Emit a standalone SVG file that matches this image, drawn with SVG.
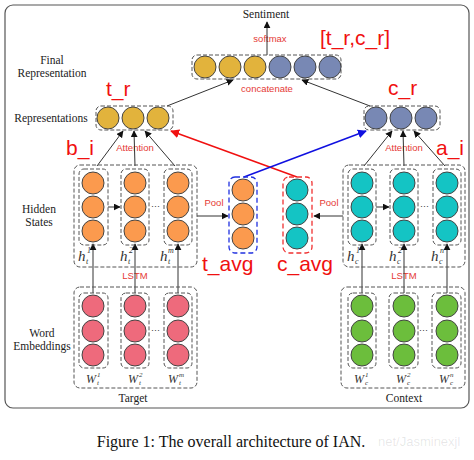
<svg xmlns="http://www.w3.org/2000/svg" width="474" height="460" viewBox="0 0 474 460">
<defs>
<style>
.frame{fill:#fff;stroke:#555;stroke-width:1.2}
.db{fill:none;stroke:#555;stroke-width:1;stroke-dasharray:4 2}
.cy{fill:#E2B33C;stroke:#444;stroke-width:1}
.cb{fill:#7888B4;stroke:#444;stroke-width:1}
.co{fill:#FB9A4E;stroke:#444;stroke-width:1}
.ct{fill:#14C4C4;stroke:#444;stroke-width:1}
.cp{fill:#EE6A7C;stroke:#444;stroke-width:1}
.cg{fill:#6CBE3C;stroke:#444;stroke-width:1}
.ln{stroke:#333;stroke-width:1;fill:none}
.lbl{font-family:"Liberation Serif",serif;font-size:11.5px;fill:#222;text-anchor:middle}
.red{font-family:"Liberation Sans",sans-serif;font-size:9.5px;fill:#E53935;text-anchor:middle}
.big{font-family:"Liberation Sans",sans-serif;font-size:21px;fill:#F01010}
.mi{font-family:"Liberation Serif",serif;font-style:italic;fill:#333}
</style>
<marker id="ah" viewBox="0 0 10 10" refX="9" refY="5" markerWidth="7" markerHeight="7" markerUnits="userSpaceOnUse" orient="auto"><path d="M0,0L10,5L0,10z" fill="#111"/></marker>
<marker id="ahr" viewBox="0 0 10 10" refX="9" refY="5" markerWidth="9" markerHeight="9" markerUnits="userSpaceOnUse" orient="auto"><path d="M0,0L10,5L0,10z" fill="#F01010"/></marker>
<marker id="ahb" viewBox="0 0 10 10" refX="9" refY="5" markerWidth="9" markerHeight="9" markerUnits="userSpaceOnUse" orient="auto"><path d="M0,0L10,5L0,10z" fill="#1010E0"/></marker>
</defs>
<rect width="474" height="460" fill="#fff"/>
<rect class="frame" x="5" y="5" width="464" height="403" rx="8"/>

<g id="labels">
<text class="lbl" x="266" y="18" font-size="13">Sentiment</text>
<text class="lbl" x="52" y="64">Final</text>
<text class="lbl" x="52" y="77">Representation</text>
<text class="lbl" x="51" y="122">Representations</text>
<text class="lbl" x="39" y="213">Hidden</text>
<text class="lbl" x="39" y="226">States</text>
<text class="lbl" x="42" y="337">Word</text>
<text class="lbl" x="42" y="350">Embeddings</text>
<text class="lbl" x="133" y="402" font-size="11">Target</text>
<text class="lbl" x="404" y="402" font-size="11">Context</text>
<text class="red" x="270" y="42">softmax</text>
<text class="red" x="267" y="92">concatenate</text>
<text class="red" x="135" y="151">Attention</text>
<text class="red" x="404" y="151">Attention</text>
<text class="red" x="214" y="206">Pool</text>
<text class="red" x="329" y="206">Pool</text>
<text class="red" x="135" y="279">LSTM</text>
<text class="red" x="404" y="279">LSTM</text>
<text class="big" x="320" y="45">[t_r,c_r]</text>
<text class="big" x="106" y="96">t_r</text>
<text class="big" x="388" y="95">c_r</text>
<text class="big" x="66" y="155">b_i</text>
<text class="big" x="436" y="155">a_i</text>
<text class="big" x="202" y="271">t_avg</text>
<text class="big" x="277" y="271">c_avg</text>
<text x="231" y="447" font-family="Liberation Serif,serif" font-size="16" fill="#111" text-anchor="middle">Figure 1: The overall architecture of IAN.</text>
<text x="378" y="446" font-family="Liberation Sans,sans-serif" font-size="13" fill="#000" fill-opacity="0.1">net/Jasminexjl</text>
</g>

<g id="connectors">
<line class="ln" x1="267" y1="55" x2="267" y2="22" marker-end="url(#ah)"/>
<line class="ln" x1="167" y1="106" x2="233" y2="80" marker-end="url(#ah)"/>
<line class="ln" x1="370" y1="106" x2="302" y2="80" marker-end="url(#ah)"/>
<line class="ln" x1="97" y1="166" x2="123" y2="131" marker-end="url(#ah)"/>
<line class="ln" x1="135" y1="166" x2="134" y2="131" marker-end="url(#ah)"/>
<line class="ln" x1="175" y1="166" x2="145" y2="131" marker-end="url(#ah)"/>
<line class="ln" x1="364" y1="166" x2="392" y2="131" marker-end="url(#ah)"/>
<line class="ln" x1="404" y1="166" x2="403" y2="131" marker-end="url(#ah)"/>
<line class="ln" x1="445" y1="166" x2="414" y2="131" marker-end="url(#ah)"/>
<line class="ln" x1="197" y1="216" x2="228" y2="216" marker-end="url(#ah)"/>
<line class="ln" x1="343" y1="216" x2="314" y2="216" marker-end="url(#ah)"/>
<line class="ln" x1="108" y1="207" x2="120" y2="207" marker-end="url(#ah)"/>
<line class="ln" x1="376" y1="207" x2="389" y2="207" marker-end="url(#ah)"/>
<line class="ln" x1="93" y1="293" x2="93" y2="244" marker-end="url(#ah)"/>
<line class="ln" x1="135" y1="293" x2="135" y2="244" marker-end="url(#ah)"/>
<line class="ln" x1="178" y1="293" x2="178" y2="244" marker-end="url(#ah)"/>
<line class="ln" x1="362" y1="293" x2="362" y2="244" marker-end="url(#ah)"/>
<line class="ln" x1="404" y1="293" x2="404" y2="244" marker-end="url(#ah)"/>
<line class="ln" x1="447" y1="293" x2="447" y2="244" marker-end="url(#ah)"/>
<line x1="297" y1="177" x2="171" y2="131" stroke="#F01010" stroke-width="1.5" marker-end="url(#ahr)"/>
<line x1="244" y1="177" x2="366" y2="131" stroke="#1010E0" stroke-width="1.5" marker-end="url(#ahb)"/>
</g>

<g id="final">
<rect class="db" x="192" y="55" width="149" height="24" rx="5"/>
<circle class="cy" cx="205" cy="67" r="11"/>
<circle class="cy" cx="230" cy="67" r="11"/>
<circle class="cy" cx="255" cy="67" r="11"/>
<circle class="cb" cx="280" cy="67" r="11"/>
<circle class="cb" cx="305" cy="67" r="11"/>
<circle class="cb" cx="330" cy="67" r="11"/>
</g>

<g id="rep-target">
<rect class="db" x="96" y="106" width="77" height="24" rx="5"/>
<circle class="cy" cx="108" cy="118" r="11"/>
<circle class="cy" cx="133" cy="118" r="11"/>
<circle class="cy" cx="158" cy="118" r="11"/>
</g>

<g id="rep-context">
<rect class="db" x="364" y="106" width="76" height="24" rx="5"/>
<circle class="cb" cx="376" cy="118" r="11"/>
<circle class="cb" cx="401" cy="118" r="11"/>
<circle class="cb" cx="426" cy="118" r="11"/>
</g>

<g id="hidden-target">
<rect class="db" x="74" y="165" width="123" height="102" rx="6"/>
<rect class="db" x="79" y="169" width="29" height="76" rx="5"/>
<rect class="db" x="121" y="169" width="28" height="76" rx="5"/>
<rect class="db" x="164" y="169" width="28" height="76" rx="5"/>
<circle class="co" cx="93" cy="183" r="11"/><circle class="co" cx="93" cy="207" r="11"/><circle class="co" cx="93" cy="231" r="11"/>
<circle class="co" cx="135" cy="183" r="11"/><circle class="co" cx="135" cy="207" r="11"/><circle class="co" cx="135" cy="231" r="11"/>
<circle class="co" cx="178" cy="183" r="11"/><circle class="co" cx="178" cy="207" r="11"/><circle class="co" cx="178" cy="231" r="11"/>
<text x="151" y="209" font-family="Liberation Sans,sans-serif" font-size="9" fill="#333">···</text>
<text class="mi" x="78" y="261" font-size="15">h</text><text class="mi" x="86" y="264" font-size="8">t</text><text class="mi" x="87" y="253" font-size="8">1</text>
<text class="mi" x="120" y="261" font-size="15">h</text><text class="mi" x="128" y="264" font-size="8">t</text><text class="mi" x="129" y="253" font-size="8">2</text>
<text class="mi" x="160" y="261" font-size="15">h</text><text class="mi" x="168" y="264" font-size="8">t</text><text class="mi" x="168" y="253" font-size="8">m</text>
</g>

<g id="t-avg">
<rect x="229" y="177" width="28" height="76" rx="6" fill="none" stroke="#2030E0" stroke-width="1.3" stroke-dasharray="5 3"/>
<circle class="co" cx="243" cy="190" r="11"/><circle class="co" cx="243" cy="214" r="11"/><circle class="co" cx="243" cy="238" r="11"/>
</g>

<g id="c-avg">
<rect x="283" y="177" width="29" height="76" rx="6" fill="none" stroke="#F03030" stroke-width="1.3" stroke-dasharray="5 3"/>
<circle class="ct" cx="297" cy="190" r="11"/><circle class="ct" cx="297" cy="214" r="11"/><circle class="ct" cx="297" cy="238" r="11"/>
</g>

<g id="hidden-context">
<rect class="db" x="343" y="165" width="122" height="102" rx="6"/>
<rect class="db" x="348" y="169" width="28" height="76" rx="5"/>
<rect class="db" x="390" y="169" width="28" height="76" rx="5"/>
<rect class="db" x="433" y="169" width="28" height="76" rx="5"/>
<circle class="ct" cx="362" cy="183" r="11"/><circle class="ct" cx="362" cy="207" r="11"/><circle class="ct" cx="362" cy="231" r="11"/>
<circle class="ct" cx="404" cy="183" r="11"/><circle class="ct" cx="404" cy="207" r="11"/><circle class="ct" cx="404" cy="231" r="11"/>
<circle class="ct" cx="447" cy="183" r="11"/><circle class="ct" cx="447" cy="207" r="11"/><circle class="ct" cx="447" cy="231" r="11"/>
<text x="420" y="209" font-family="Liberation Sans,sans-serif" font-size="9" fill="#333">···</text>
<text class="mi" x="347" y="261" font-size="15">h</text><text class="mi" x="355" y="264" font-size="8">c</text><text class="mi" x="356" y="253" font-size="8">1</text>
<text class="mi" x="389" y="261" font-size="15">h</text><text class="mi" x="397" y="264" font-size="8">c</text><text class="mi" x="398" y="253" font-size="8">2</text>
<text class="mi" x="431" y="261" font-size="15">h</text><text class="mi" x="439" y="264" font-size="8">c</text><text class="mi" x="440" y="253" font-size="8">n</text>
</g>

<g id="emb-target">
<rect class="db" x="74" y="287" width="123" height="101" rx="6"/>
<rect class="db" x="79" y="293" width="29" height="75" rx="5"/>
<rect class="db" x="121" y="293" width="28" height="75" rx="5"/>
<rect class="db" x="164" y="293" width="28" height="75" rx="5"/>
<circle class="cp" cx="93" cy="306" r="11"/><circle class="cp" cx="93" cy="331" r="11"/><circle class="cp" cx="93" cy="355" r="11"/>
<circle class="cp" cx="135" cy="306" r="11"/><circle class="cp" cx="135" cy="331" r="11"/><circle class="cp" cx="135" cy="355" r="11"/>
<circle class="cp" cx="178" cy="306" r="11"/><circle class="cp" cx="178" cy="331" r="11"/><circle class="cp" cx="178" cy="355" r="11"/>
<text x="151" y="333" font-family="Liberation Sans,sans-serif" font-size="9" fill="#333">···</text>
<text class="mi" x="86" y="383" font-size="12">W</text><text class="mi" x="97" y="385" font-size="7">t</text><text class="mi" x="97" y="377" font-size="7">1</text>
<text class="mi" x="128" y="383" font-size="12">W</text><text class="mi" x="139" y="385" font-size="7">t</text><text class="mi" x="139" y="377" font-size="7">2</text>
<text class="mi" x="168" y="383" font-size="12">W</text><text class="mi" x="179" y="385" font-size="7">t</text><text class="mi" x="179" y="377" font-size="7">m</text>
</g>

<g id="emb-context">
<rect class="db" x="341" y="287" width="124" height="101" rx="6"/>
<rect class="db" x="348" y="293" width="28" height="75" rx="5"/>
<rect class="db" x="389" y="293" width="29" height="75" rx="5"/>
<rect class="db" x="432" y="293" width="29" height="75" rx="5"/>
<circle class="cg" cx="362" cy="306" r="11"/><circle class="cg" cx="362" cy="331" r="11"/><circle class="cg" cx="362" cy="355" r="11"/>
<circle class="cg" cx="404" cy="306" r="11"/><circle class="cg" cx="404" cy="331" r="11"/><circle class="cg" cx="404" cy="355" r="11"/>
<circle class="cg" cx="447" cy="306" r="11"/><circle class="cg" cx="447" cy="331" r="11"/><circle class="cg" cx="447" cy="355" r="11"/>
<text x="419" y="333" font-family="Liberation Sans,sans-serif" font-size="9" fill="#333">···</text>
<text class="mi" x="354" y="383" font-size="12">W</text><text class="mi" x="365" y="385" font-size="7">c</text><text class="mi" x="365" y="377" font-size="7">1</text>
<text class="mi" x="396" y="383" font-size="12">W</text><text class="mi" x="407" y="385" font-size="7">c</text><text class="mi" x="407" y="377" font-size="7">2</text>
<text class="mi" x="439" y="383" font-size="12">W</text><text class="mi" x="450" y="385" font-size="7">c</text><text class="mi" x="450" y="377" font-size="7">n</text>
</g>
</svg>
